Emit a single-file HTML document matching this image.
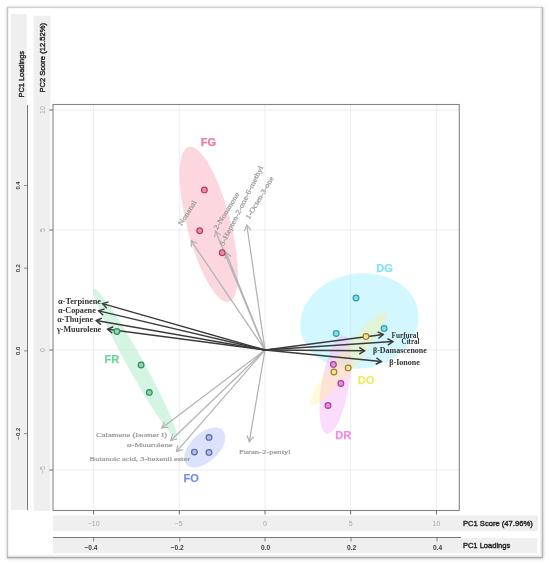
<!DOCTYPE html>
<html><head><meta charset="utf-8"><title>PCA biplot</title>
<style>
html,body{margin:0;padding:0;background:#fff;width:550px;height:565px;overflow:hidden}
svg{display:block}
</style></head>
<body>
<svg width="550" height="565" viewBox="0 0 550 565">
<defs><filter id="sh" x="-5%" y="-5%" width="110%" height="110%"><feDropShadow dx="0.3" dy="0.4" stdDeviation="1.4" flood-color="#000" flood-opacity="0.28"/></filter></defs>
<rect x="7.5" y="7.5" width="534.8" height="550" fill="#fff" stroke="#c4c4c4" stroke-width="1.2" filter="url(#sh)"/>
<line x1="7" y1="7.5" x2="542.8" y2="7.5" stroke="#d0d0d0" stroke-width="1.1"/>
<line x1="7.5" y1="7" x2="7.5" y2="558" stroke="#c2c2c2" stroke-width="1.2"/>
<line x1="542.3" y1="7" x2="542.3" y2="558" stroke="#bababa" stroke-width="1.3"/>
<line x1="7" y1="557.5" x2="542.8" y2="557.5" stroke="#ababab" stroke-width="1.3"/>
<line x1="8" y1="556.2" x2="542" y2="556.2" stroke="#e2e2e2" stroke-width="1.2"/>
<line x1="541" y1="8" x2="541" y2="557" stroke="#e6e6e6" stroke-width="1.2"/>
<rect x="11" y="14" width="15.8" height="496" fill="#efefef"/>
<rect x="33.6" y="15.6" width="16.8" height="495.4" fill="#efefef"/>
<rect x="53" y="515.5" width="485" height="15.5" fill="#efefef"/>
<rect x="53" y="538" width="484" height="15.5" fill="#efefef"/>
<rect x="53" y="104.5" width="406.5" height="406" fill="#fff"/>
<line x1="93.6" y1="104.5" x2="93.6" y2="510.5" stroke="#e9e9e9" stroke-width="0.8"/>
<line x1="179.3" y1="104.5" x2="179.3" y2="510.5" stroke="#e9e9e9" stroke-width="0.8"/>
<line x1="265.0" y1="104.5" x2="265.0" y2="510.5" stroke="#e9e9e9" stroke-width="0.8"/>
<line x1="350.7" y1="104.5" x2="350.7" y2="510.5" stroke="#e9e9e9" stroke-width="0.8"/>
<line x1="436.4" y1="104.5" x2="436.4" y2="510.5" stroke="#e9e9e9" stroke-width="0.8"/>
<line x1="53" y1="110.0" x2="459.5" y2="110.0" stroke="#e9e9e9" stroke-width="0.8"/>
<line x1="53" y1="230.0" x2="459.5" y2="230.0" stroke="#e9e9e9" stroke-width="0.8"/>
<line x1="53" y1="350.0" x2="459.5" y2="350.0" stroke="#e9e9e9" stroke-width="0.8"/>
<line x1="53" y1="470.0" x2="459.5" y2="470.0" stroke="#e9e9e9" stroke-width="0.8"/>
<ellipse cx="359.4" cy="321.0" rx="59.5" ry="47.4" transform="rotate(-10.0 359.4 321.0)" fill="rgb(126, 232, 255)" fill-opacity="0.35"/>
<ellipse cx="335.3" cy="384.6" rx="50.0" ry="13.7" transform="rotate(-80.35 335.3 384.6)" fill="rgb(250, 192, 250)" fill-opacity="0.556"/>
<ellipse cx="348.7" cy="358.4" rx="59.9" ry="10.0" transform="rotate(-51.0 348.7 358.4)" fill="rgb(255, 240, 135)" fill-opacity="0.333"/>
<ellipse cx="208.8" cy="224.3" rx="80.1" ry="21.8" transform="rotate(75.5 208.8 224.3)" fill="rgb(251, 175, 193)" fill-opacity="0.5"/>
<ellipse cx="204.7" cy="447.5" rx="24.9" ry="14.2" transform="rotate(-43.5 204.7 447.5)" fill="rgb(185, 197, 249)" fill-opacity="0.5"/>
<ellipse cx="135.1" cy="363.2" rx="85.5" ry="8.0" transform="rotate(60.9 135.1 363.2)" fill="rgb(171, 235, 201)" fill-opacity="0.5"/>
<line x1="265.0" y1="350.0" x2="191.10" y2="240.60" stroke="#b2b2b2" stroke-width="1.25"/><polyline points="191.56,247.18 191.10,240.60 197.03,243.49" fill="none" stroke="#b2b2b2" stroke-width="1.25" stroke-linejoin="miter"/>
<line x1="265.0" y1="350.0" x2="215.50" y2="230.90" stroke="#b2b2b2" stroke-width="1.25"/><polyline points="214.65,237.44 215.50,230.90 220.74,234.91" fill="none" stroke="#b2b2b2" stroke-width="1.25" stroke-linejoin="miter"/>
<line x1="265.0" y1="350.0" x2="226.00" y2="252.50" stroke="#b2b2b2" stroke-width="1.25"/><polyline points="225.06,259.03 226.00,252.50 231.19,256.58" fill="none" stroke="#b2b2b2" stroke-width="1.25" stroke-linejoin="miter"/>
<line x1="265.0" y1="350.0" x2="246.80" y2="225.00" stroke="#b2b2b2" stroke-width="1.25"/><polyline points="244.36,231.13 246.80,225.00 250.89,230.18" fill="none" stroke="#b2b2b2" stroke-width="1.25" stroke-linejoin="miter"/>
<line x1="265.0" y1="350.0" x2="161.80" y2="428.00" stroke="#b2b2b2" stroke-width="1.25"/><polyline points="168.35,427.19 161.80,428.00 164.37,421.92" fill="none" stroke="#b2b2b2" stroke-width="1.25" stroke-linejoin="miter"/>
<line x1="265.0" y1="350.0" x2="170.80" y2="440.50" stroke="#b2b2b2" stroke-width="1.25"/><polyline points="177.21,438.92 170.80,440.50 172.64,434.16" fill="none" stroke="#b2b2b2" stroke-width="1.25" stroke-linejoin="miter"/>
<line x1="265.0" y1="350.0" x2="176.50" y2="451.60" stroke="#b2b2b2" stroke-width="1.25"/><polyline points="182.74,449.46 176.50,451.60 177.77,445.12" fill="none" stroke="#b2b2b2" stroke-width="1.25" stroke-linejoin="miter"/>
<line x1="265.0" y1="350.0" x2="249.30" y2="441.70" stroke="#b2b2b2" stroke-width="1.25"/><polyline points="253.52,436.62 249.30,441.70 247.01,435.51" fill="none" stroke="#b2b2b2" stroke-width="1.25" stroke-linejoin="miter"/>
<line x1="265.0" y1="350.0" x2="102.60" y2="303.60" stroke="#3a3a3a" stroke-width="1.45"/><polyline points="106.75,308.20 102.60,303.60 108.56,301.89" fill="none" stroke="#3a3a3a" stroke-width="1.45" stroke-linejoin="miter"/>
<line x1="265.0" y1="350.0" x2="98.70" y2="310.90" stroke="#3a3a3a" stroke-width="1.45"/><polyline points="103.07,315.30 98.70,310.90 104.57,308.91" fill="none" stroke="#3a3a3a" stroke-width="1.45" stroke-linejoin="miter"/>
<line x1="265.0" y1="350.0" x2="96.20" y2="320.50" stroke="#3a3a3a" stroke-width="1.45"/><polyline points="100.81,324.64 96.20,320.50 101.95,318.17" fill="none" stroke="#3a3a3a" stroke-width="1.45" stroke-linejoin="miter"/>
<line x1="265.0" y1="350.0" x2="107.60" y2="329.30" stroke="#3a3a3a" stroke-width="1.45"/><polyline points="112.38,333.24 107.60,329.30 113.24,326.73" fill="none" stroke="#3a3a3a" stroke-width="1.45" stroke-linejoin="miter"/>
<line x1="265.0" y1="350.0" x2="383.20" y2="334.50" stroke="#3a3a3a" stroke-width="1.45"/><polyline points="377.56,331.93 383.20,334.50 378.41,338.44" fill="none" stroke="#3a3a3a" stroke-width="1.45" stroke-linejoin="miter"/>
<line x1="265.0" y1="350.0" x2="392.90" y2="341.50" stroke="#3a3a3a" stroke-width="1.45"/><polyline points="387.44,338.57 392.90,341.50 387.87,345.13" fill="none" stroke="#3a3a3a" stroke-width="1.45" stroke-linejoin="miter"/>
<line x1="265.0" y1="350.0" x2="364.50" y2="350.80" stroke="#3a3a3a" stroke-width="1.45"/><polyline points="359.27,347.47 364.50,350.80 359.22,354.04" fill="none" stroke="#3a3a3a" stroke-width="1.45" stroke-linejoin="miter"/>
<line x1="265.0" y1="350.0" x2="381.30" y2="361.50" stroke="#3a3a3a" stroke-width="1.45"/><polyline points="376.39,357.71 381.30,361.50 375.74,364.25" fill="none" stroke="#3a3a3a" stroke-width="1.45" stroke-linejoin="miter"/>
<circle cx="204.4" cy="189.9" r="2.85" fill="#f5869f" stroke="#a8485f" stroke-width="1.2"/>
<circle cx="199.7" cy="230.8" r="2.85" fill="#f5869f" stroke="#a8485f" stroke-width="1.2"/>
<circle cx="222.2" cy="252.8" r="2.85" fill="#f5869f" stroke="#a8485f" stroke-width="1.2"/>
<circle cx="116.9" cy="331.5" r="2.85" fill="#88d8a8" stroke="#368a5e" stroke-width="1.2"/>
<circle cx="141.1" cy="365.0" r="2.85" fill="#88d8a8" stroke="#368a5e" stroke-width="1.2"/>
<circle cx="149.3" cy="392.4" r="2.85" fill="#88d8a8" stroke="#368a5e" stroke-width="1.2"/>
<circle cx="209.0" cy="437.4" r="2.85" fill="#adbdf0" stroke="#5c6aa2" stroke-width="1.2"/>
<circle cx="194.4" cy="452.1" r="2.85" fill="#adbdf0" stroke="#5c6aa2" stroke-width="1.2"/>
<circle cx="209.0" cy="452.4" r="2.85" fill="#adbdf0" stroke="#5c6aa2" stroke-width="1.2"/>
<circle cx="356.0" cy="298.0" r="2.85" fill="#7ee0ec" stroke="#3c98a8" stroke-width="1.2"/>
<circle cx="336.2" cy="333.5" r="2.85" fill="#7ee0ec" stroke="#3c98a8" stroke-width="1.2"/>
<circle cx="384.1" cy="328.5" r="2.85" fill="#7ee0ec" stroke="#3c98a8" stroke-width="1.2"/>
<circle cx="366.0" cy="336.5" r="2.85" fill="#f6e48e" stroke="#978236" stroke-width="1.2"/>
<circle cx="348.2" cy="367.9" r="2.85" fill="#f6e48e" stroke="#978236" stroke-width="1.2"/>
<circle cx="333.9" cy="372.0" r="2.85" fill="#f6e48e" stroke="#978236" stroke-width="1.2"/>
<circle cx="333.4" cy="364.4" r="2.85" fill="#f08ae0" stroke="#a0468f" stroke-width="1.2"/>
<circle cx="340.9" cy="383.5" r="2.85" fill="#f08ae0" stroke="#a0468f" stroke-width="1.2"/>
<circle cx="328.0" cy="405.5" r="2.85" fill="#f08ae0" stroke="#a0468f" stroke-width="1.2"/>
<text x="208.5" y="142.3" text-anchor="middle" dominant-baseline="central" font-family="Liberation Sans, Arial, sans-serif" font-weight="bold" font-size="11.1" fill="#ee7a9c" stroke="#ee7a9c" stroke-width="0.25">FG</text>
<text x="111.9" y="359.0" text-anchor="middle" dominant-baseline="central" font-family="Liberation Sans, Arial, sans-serif" font-weight="bold" font-size="11.1" fill="#72d49c" stroke="#72d49c" stroke-width="0.25">FR</text>
<text x="191.1" y="478.0" text-anchor="middle" dominant-baseline="central" font-family="Liberation Sans, Arial, sans-serif" font-weight="bold" font-size="11.1" fill="#7a92e0" stroke="#7a92e0" stroke-width="0.25">FO</text>
<text x="384.5" y="268.3" text-anchor="middle" dominant-baseline="central" font-family="Liberation Sans, Arial, sans-serif" font-weight="bold" font-size="11.1" fill="#88e2ee" stroke="#88e2ee" stroke-width="0.25">DG</text>
<text x="366.1" y="380.2" text-anchor="middle" dominant-baseline="central" font-family="Liberation Sans, Arial, sans-serif" font-weight="bold" font-size="11.1" fill="#eeea6a" stroke="#eeea6a" stroke-width="0.25">DO</text>
<text x="343.2" y="435.0" text-anchor="middle" dominant-baseline="central" font-family="Liberation Sans, Arial, sans-serif" font-weight="bold" font-size="11.1" fill="#ee8ce8" stroke="#ee8ce8" stroke-width="0.25">DR</text>
<text x="58" y="301.4" dominant-baseline="central" font-family="Liberation Serif, serif" font-weight="bold" font-size="7.5" fill="#333333" textLength="43" lengthAdjust="spacingAndGlyphs">α-Terpinene</text>
<text x="58" y="310.5" dominant-baseline="central" font-family="Liberation Serif, serif" font-weight="bold" font-size="7.5" fill="#333333" textLength="37.8" lengthAdjust="spacingAndGlyphs">α-Copaene</text>
<text x="57.3" y="319.8" dominant-baseline="central" font-family="Liberation Serif, serif" font-weight="bold" font-size="7.5" fill="#333333" textLength="35.7" lengthAdjust="spacingAndGlyphs">α-Thujene</text>
<text x="57" y="329.7" dominant-baseline="central" font-family="Liberation Serif, serif" font-weight="bold" font-size="7.5" fill="#333333" textLength="44.2" lengthAdjust="spacingAndGlyphs">γ-Muurolene</text>
<text x="391.5" y="335.3" dominant-baseline="central" font-family="Liberation Serif, serif" font-weight="bold" font-size="7.5" fill="#333333" textLength="26.9" lengthAdjust="spacingAndGlyphs">Furfural</text>
<text x="401.6" y="341.5" dominant-baseline="central" font-family="Liberation Serif, serif" font-weight="bold" font-size="7.5" fill="#333333" textLength="17.9" lengthAdjust="spacingAndGlyphs">Citral</text>
<text x="373" y="350.8" dominant-baseline="central" font-family="Liberation Serif, serif" font-weight="bold" font-size="7.5" fill="#333333" textLength="53.8" lengthAdjust="spacingAndGlyphs">β-Damascenone</text>
<text x="389.3" y="362.2" dominant-baseline="central" font-family="Liberation Serif, serif" font-weight="bold" font-size="7.5" fill="#333333" textLength="30.5" lengthAdjust="spacingAndGlyphs">β-Ionone</text>
<text x="96" y="434.6" dominant-baseline="central" font-family="Liberation Serif, serif" font-weight="normal" font-size="7.0" fill="#999999" stroke="#999999" stroke-width="0.22" textLength="71" lengthAdjust="spacingAndGlyphs">Calamene (Isomer I)</text>
<text x="127" y="444.5" dominant-baseline="central" font-family="Liberation Serif, serif" font-weight="normal" font-size="7.0" fill="#999999" stroke="#999999" stroke-width="0.22" textLength="45.6" lengthAdjust="spacingAndGlyphs">α-Muurolene</text>
<text x="89.6" y="459.2" dominant-baseline="central" font-family="Liberation Serif, serif" font-weight="normal" font-size="7.0" fill="#999999" stroke="#999999" stroke-width="0.22" textLength="100.4" lengthAdjust="spacingAndGlyphs">Butanoic acid, 3-hexenil ester</text>
<text x="238.9" y="451.7" dominant-baseline="central" font-family="Liberation Serif, serif" font-weight="normal" font-size="7.0" fill="#999999" stroke="#999999" stroke-width="0.22" textLength="51.9" lengthAdjust="spacingAndGlyphs">Furan-2-pentyl</text>
<text x="180.1" y="225.0" dominant-baseline="central" transform="rotate(-58.23 180.1 225.0)" font-family="Liberation Serif, serif" font-size="7.0" fill="#999999" stroke="#999999" stroke-width="0.22" textLength="28.1" lengthAdjust="spacingAndGlyphs">Nonanal</text>
<text x="215.6" y="229.3" dominant-baseline="central" transform="rotate(-58.67 215.6 229.3)" font-family="Liberation Serif, serif" font-size="7.0" fill="#999999" stroke="#999999" stroke-width="0.22" textLength="42.5" lengthAdjust="spacingAndGlyphs">2-Nonanone</text>
<text x="221.8" y="245.3" dominant-baseline="central" transform="rotate(-63.20 221.8 245.3)" font-family="Liberation Serif, serif" font-size="7.0" fill="#999999" stroke="#999999" stroke-width="0.22" textLength="88.3" lengthAdjust="spacingAndGlyphs">5-Hepten-2-one-6-methyl</text>
<text x="247.5" y="218.7" dominant-baseline="central" transform="rotate(-59.20 247.5 218.7)" font-family="Liberation Serif, serif" font-size="7.0" fill="#999999" stroke="#999999" stroke-width="0.22" textLength="48.4" lengthAdjust="spacingAndGlyphs">1-Octen-3-one</text>
<rect x="53" y="104.5" width="406.3" height="406" fill="none" stroke="#858585" stroke-width="1.1"/>
<line x1="27.5" y1="105" x2="27.5" y2="510" stroke="#777" stroke-width="1"/>
<line x1="53" y1="537.5" x2="461" y2="537.5" stroke="#777" stroke-width="1"/>
<line x1="93.6" y1="510.5" x2="93.6" y2="514.5" stroke="#666" stroke-width="0.95"/>
<text x="93.6" y="523.3" text-anchor="middle" dominant-baseline="central" font-family="Liberation Sans, Arial, sans-serif" font-size="7" fill="#a8a8a8">−10</text>
<line x1="179.3" y1="510.5" x2="179.3" y2="514.5" stroke="#666" stroke-width="0.95"/>
<text x="178.60000000000002" y="523.3" text-anchor="middle" dominant-baseline="central" font-family="Liberation Sans, Arial, sans-serif" font-size="7" fill="#a8a8a8">−5</text>
<line x1="265.0" y1="510.5" x2="265.0" y2="514.5" stroke="#666" stroke-width="0.95"/>
<text x="265.0" y="523.3" text-anchor="middle" dominant-baseline="central" font-family="Liberation Sans, Arial, sans-serif" font-size="7" fill="#a8a8a8">0</text>
<line x1="350.7" y1="510.5" x2="350.7" y2="514.5" stroke="#666" stroke-width="0.95"/>
<text x="350.7" y="523.3" text-anchor="middle" dominant-baseline="central" font-family="Liberation Sans, Arial, sans-serif" font-size="7" fill="#a8a8a8">5</text>
<line x1="436.4" y1="510.5" x2="436.4" y2="514.5" stroke="#666" stroke-width="0.95"/>
<text x="436.4" y="523.3" text-anchor="middle" dominant-baseline="central" font-family="Liberation Sans, Arial, sans-serif" font-size="7" fill="#a8a8a8">10</text>
<line x1="93.6" y1="537.5" x2="93.6" y2="541.5" stroke="#777" stroke-width="0.9"/>
<text x="91.0" y="547" text-anchor="middle" dominant-baseline="central" font-family="Liberation Sans, Arial, sans-serif" font-weight="bold" font-size="6.6" fill="#3a3a3a">−0.4</text>
<line x1="179.8" y1="537.5" x2="179.8" y2="541.5" stroke="#777" stroke-width="0.9"/>
<text x="177.20000000000002" y="547" text-anchor="middle" dominant-baseline="central" font-family="Liberation Sans, Arial, sans-serif" font-weight="bold" font-size="6.6" fill="#3a3a3a">−0.2</text>
<line x1="265.0" y1="537.5" x2="265.0" y2="541.5" stroke="#777" stroke-width="0.9"/>
<text x="265.5" y="547" text-anchor="middle" dominant-baseline="central" font-family="Liberation Sans, Arial, sans-serif" font-weight="bold" font-size="6.6" fill="#3a3a3a">0.0</text>
<line x1="351.0" y1="537.5" x2="351.0" y2="541.5" stroke="#777" stroke-width="0.9"/>
<text x="351.5" y="547" text-anchor="middle" dominant-baseline="central" font-family="Liberation Sans, Arial, sans-serif" font-weight="bold" font-size="6.6" fill="#3a3a3a">0.2</text>
<line x1="437.0" y1="537.5" x2="437.0" y2="541.5" stroke="#777" stroke-width="0.9"/>
<text x="437.5" y="547" text-anchor="middle" dominant-baseline="central" font-family="Liberation Sans, Arial, sans-serif" font-weight="bold" font-size="6.6" fill="#3a3a3a">0.4</text>
<line x1="49.3" y1="110.0" x2="53" y2="110.0" stroke="#666" stroke-width="0.95"/>
<text x="42.2" y="110.0" text-anchor="middle" dominant-baseline="central" transform="rotate(-90 42.2 110.0)" font-family="Liberation Sans, Arial, sans-serif" font-size="7" fill="#a8a8a8">10</text>
<line x1="49.3" y1="230.0" x2="53" y2="230.0" stroke="#666" stroke-width="0.95"/>
<text x="42.2" y="230.0" text-anchor="middle" dominant-baseline="central" transform="rotate(-90 42.2 230.0)" font-family="Liberation Sans, Arial, sans-serif" font-size="7" fill="#a8a8a8">5</text>
<line x1="49.3" y1="350.0" x2="53" y2="350.0" stroke="#666" stroke-width="0.95"/>
<text x="42.2" y="350.0" text-anchor="middle" dominant-baseline="central" transform="rotate(-90 42.2 350.0)" font-family="Liberation Sans, Arial, sans-serif" font-size="7" fill="#a8a8a8">0</text>
<line x1="49.3" y1="470.0" x2="53" y2="470.0" stroke="#666" stroke-width="0.95"/>
<text x="42.2" y="470.0" text-anchor="middle" dominant-baseline="central" transform="rotate(-90 42.2 470.0)" font-family="Liberation Sans, Arial, sans-serif" font-size="7" fill="#a8a8a8">−5</text>
<line x1="24" y1="185.5" x2="27.5" y2="185.5" stroke="#777" stroke-width="0.8"/>
<text x="18.3" y="185.5" text-anchor="middle" dominant-baseline="central" transform="rotate(-90 18.3 185.5)" font-family="Liberation Sans, Arial, sans-serif" font-weight="bold" font-size="5.9" fill="#3a3a3a">0.4</text>
<line x1="24" y1="268.2" x2="27.5" y2="268.2" stroke="#777" stroke-width="0.8"/>
<text x="18.3" y="268.2" text-anchor="middle" dominant-baseline="central" transform="rotate(-90 18.3 268.2)" font-family="Liberation Sans, Arial, sans-serif" font-weight="bold" font-size="5.9" fill="#3a3a3a">0.2</text>
<line x1="24" y1="350.9" x2="27.5" y2="350.9" stroke="#777" stroke-width="0.8"/>
<text x="18.3" y="350.9" text-anchor="middle" dominant-baseline="central" transform="rotate(-90 18.3 350.9)" font-family="Liberation Sans, Arial, sans-serif" font-weight="bold" font-size="5.9" fill="#3a3a3a">0.0</text>
<line x1="24" y1="433.6" x2="27.5" y2="433.6" stroke="#777" stroke-width="0.8"/>
<text x="18.3" y="433.6" text-anchor="middle" dominant-baseline="central" transform="rotate(-90 18.3 433.6)" font-family="Liberation Sans, Arial, sans-serif" font-weight="bold" font-size="5.9" fill="#3a3a3a">−0.2</text>
<text x="462.9" y="523.8" dominant-baseline="central" font-family="Liberation Sans, Arial, sans-serif" font-size="7.6" fill="#262626" stroke="#262626" stroke-width="0.4" textLength="69.8" lengthAdjust="spacingAndGlyphs">PC1 Score (47.96%)</text>
<text x="462.9" y="545.6" dominant-baseline="central" font-family="Liberation Sans, Arial, sans-serif" font-size="7.6" fill="#262626" stroke="#262626" stroke-width="0.4" textLength="47.4" lengthAdjust="spacingAndGlyphs">PC1 Loadings</text>
<text x="21.5" y="97.5" dominant-baseline="central" transform="rotate(-90 21.5 97.5)" font-family="Liberation Sans, Arial, sans-serif" font-size="7.6" fill="#262626" stroke="#262626" stroke-width="0.4" textLength="46.5" lengthAdjust="spacingAndGlyphs">PC1 Loadings</text>
<text x="42.4" y="92.6" dominant-baseline="central" transform="rotate(-90 42.4 92.6)" font-family="Liberation Sans, Arial, sans-serif" font-size="7.6" fill="#262626" stroke="#262626" stroke-width="0.4" textLength="69.6" lengthAdjust="spacingAndGlyphs">PC2 Score (12.52%)</text>
</svg>
</body></html>
